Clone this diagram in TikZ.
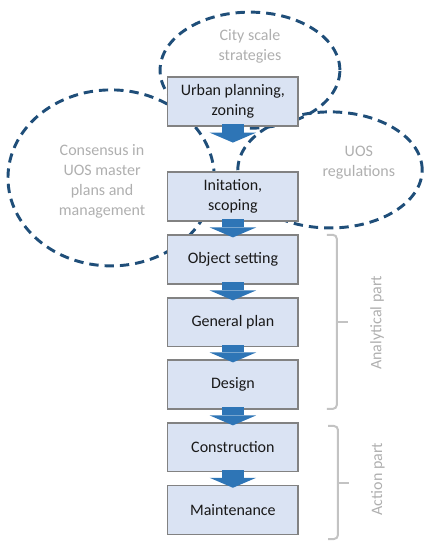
\documentclass[tikz,border=0pt]{standalone}
\usepackage{fontspec}
\setmainfont{Carlito}
\usepackage{tikz}
\usetikzlibrary{arrows.meta}

\definecolor{boxfill}{RGB}{218,227,243}
\definecolor{boxline}{RGB}{130,130,130}
\definecolor{flowblue}{RGB}{46,117,182}
\definecolor{ringblue}{RGB}{31,78,121}
\definecolor{notegray}{RGB}{175,175,175}
\definecolor{bracegray}{RGB}{195,195,195}

\begin{document}
\begin{tikzpicture}
% Node styles ---
\tikzstyle{stage} = [rectangle, draw = boxline, line width = 0.9pt, fill = boxfill, minimum width = 3.43cm, minimum height = 1.29cm, align = center, text = black!90, font = \fontsize{12}{15}\selectfont]
\tikzstyle{note} = [align = center, text = notegray, font = \fontsize{12}{15}\selectfont]
\tikzstyle{ring} = [draw = ringblue, line width = 2.2pt, dash pattern = on 7pt off 4.5pt]
\tikzstyle{flow} = [draw = flowblue, line width = 16.5pt, -{Triangle[width = 35pt, length = 7.5pt, line width = 0pt]}, shorten < = -0.06cm, shorten > = -0.08cm]
\tikzstyle{part} = [draw = bracegray, line width = 1.5pt, rounded corners = 3pt]
% Begin Figure ---
\useasboundingbox (0,0) rectangle (11.25,-14.50);
% Rings
\path [ring] (6.59,-1.85) ellipse [x radius = 2.37cm, y radius = 1.53cm];
\path [ring] (2.93,-4.69) ellipse [x radius = 2.72cm, y radius = 2.32cm];
\path [ring] (8.70,-4.48) ellipse [x radius = 2.43cm, y radius = 1.53cm];
% Notes
\node at (+6.59,-1.21) [note] (city) {City scale\\strategies};
\node at (+2.69,-4.77) [note] (cons) {Consensus in\\UOS master\\plans and\\management};
\node at (+9.46,-4.30) [note] (regs) {UOS\\regulations};
% Nodes
\node at (+6.14,-2.675) [stage] (urb) {Urban planning,\\zoning};
\node at (+6.14,-5.18) [stage] (ini) {Initation,\\scoping};
\node at (+6.14,-6.84) [stage] (obj) {Object setting};
\node at (+6.14,-8.50) [stage] (gen) {General plan};
\node at (+6.14,-10.135) [stage] (des) {Design};
\node at (+6.14,-11.795) [stage] (con) {Construction};
\node at (+6.14,-13.44) [stage] (mnt) {Maintenance};
% Paths
\path (urb) edge [flow, shorten > = 0.76cm] (ini);
\path (ini) edge [flow] (obj);
\path (obj) edge [flow] (gen);
\path (gen) edge [flow] (des);
\path (des) edge [flow] (con);
\path (con) edge [flow] (mnt);
% Parts
\draw [part] (8.62,-6.19) -- (8.88,-6.19) -- (8.88,-10.78) -- (8.62,-10.78);
\draw [part] (8.88,-8.49) -- (9.17,-8.49);
\draw [part] (8.65,-11.23) -- (8.91,-11.23) -- (8.91,-14.21) -- (8.65,-14.21);
\draw [part] (8.91,-12.73) -- (9.20,-12.73);
\node at (+9.94,-8.51) [note, rotate = 90] (ana) {Analytical part};
\node at (+9.96,-12.63) [note, rotate = 90] (act) {Action part};
\end{tikzpicture}
\end{document}
